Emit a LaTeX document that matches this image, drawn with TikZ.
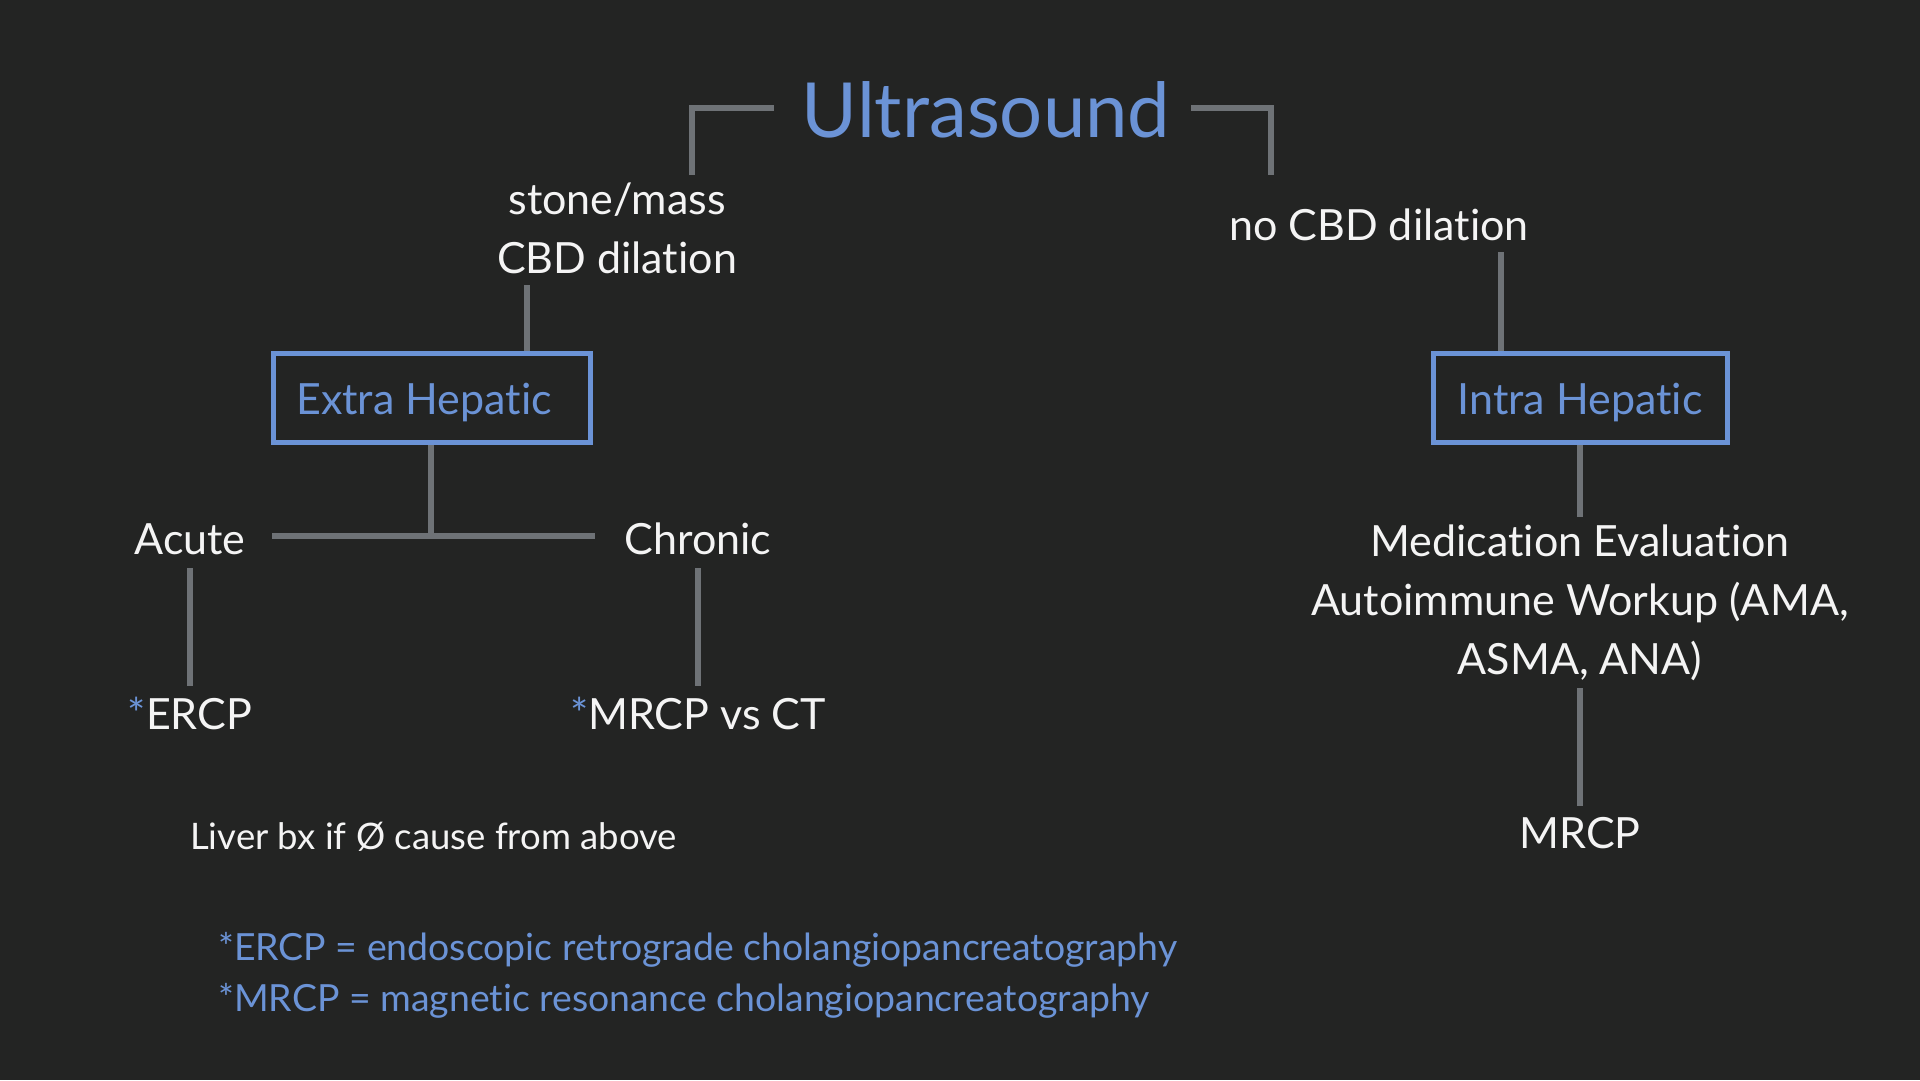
\documentclass[tikz,border=0pt]{standalone}
\usepackage{fontspec}
\setmainfont[Ligatures={NoCommon}]{Lato}
\definecolor{bg}{HTML}{232423}
\definecolor{accent}{HTML}{6B93D6}
\definecolor{linegray}{HTML}{6E7276}
\definecolor{fgwhite}{HTML}{F4F4F4}
\begin{document}
\begin{tikzpicture}[x=1pt,y=-1pt,
  conn/.style={draw=linegray,line width=6pt},
  txt/.style={text=fgwhite,font=\fontsize{43}{59}\selectfont,align=center,inner sep=0pt},
  small/.style={font=\fontsize{37.4}{51}\selectfont,inner sep=0pt,anchor=west},
  hbox/.style={draw=accent,line width=5pt,minimum height=89pt,text=accent,font=\fontsize{43}{52}\selectfont,inner sep=0pt,text height=41pt,text depth=9pt},
]
\fill[bg] (0,0) rectangle (1920,1080);
\useasboundingbox (0,0) rectangle (1920,1080);

% title
\node[text=accent,font=\fontsize{76}{90}\selectfont,inner sep=0pt] (us) at (986,110) {Ultrasound};
\coordinate (bl1) at (692,175);
\coordinate (bl2) at (774,108);
\coordinate (br1) at (1191,108);
\coordinate (br2) at (1271,175);
\draw[conn] (bl1) |- (bl2);
\draw[conn] (br1) -| (br2);

% left branch
\node[txt] (cbd) at (617,228) {stone/mass\\CBD dilation};
\node[hbox,minimum width=317pt] (extra) at (432,398) {\hspace*{-16pt}Extra Hepatic};
\coordinate (c1) at (527,285);
\draw[conn] (c1) -- (c1 |- extra.north);
\coordinate (hb) at (431,536);
\coordinate (hl) at (272,536);
\coordinate (hr) at (595,536);
\draw[conn] (extra.south -| hb) -- (hb);
\draw[conn] (hl) -- (hr);

\node[txt] (acute) at (190,539) {Acute};
\node[txt] (chronic) at (698,539) {Chronic};
\coordinate (a1) at (190,568);
\coordinate (a2) at (190,686);
\coordinate (ch1) at (698,568);
\coordinate (ch2) at (698,686);
\draw[conn] (a1) -- (a2);
\draw[conn] (ch1) -- (ch2);
\node[txt] (ercp) at (190,713) {{\color{accent}*}ERCP};
\node[txt] (mrcpct) at (698,713) {{\color{accent}*}MRCP vs CT};

\node[small,text=fgwhite,font=\fontsize{36.5}{50}\selectfont] (liver) at (190,837) {Liver bx if Ø cause from above};

% right branch
\node[txt] (nocbd) at (1379,225) {no CBD dilation};
\node[hbox,minimum width=294pt] (intra) at (1580,398) {Intra Hepatic};
\coordinate (c2) at (1501,252);
\draw[conn] (c2) -- (c2 |- intra.north);
\coordinate (m1) at (1580,517);
\draw[conn] (intra.south) -- (m1);
\node[txt] (med) at (1580,603) {Medication Evaluation\\Autoimmune Workup (AMA,\\ASMA, ANA)};
\coordinate (m2) at (1580,688);
\coordinate (m3) at (1580,806);
\draw[conn] (m2) -- (m3);
\node[txt] (mrcp) at (1580,833) {MRCP};

% footnotes
\node[small,text=accent] (fn1) at (218,950) {*ERCP = endoscopic retrograde cholangiopancreatography};
\node[small,text=accent] (fn2) at (218,1001) {*MRCP = magnetic resonance cholangiopancreatography};
\end{tikzpicture}
\end{document}
